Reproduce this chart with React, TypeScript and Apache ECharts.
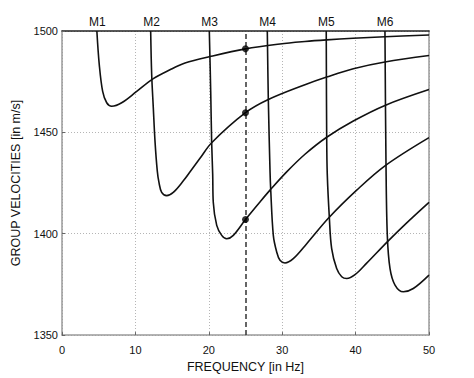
import React, { useEffect, useRef } from "react";
import * as echarts from "echarts";

const modeNames = ["M1", "M2", "M3", "M4", "M5", "M6"];
const modeCutoffs = [4.8, 12.2, 20.1, 28.0, 36.0, 44.0];

const m1: number[][] = [
  [4.75, 1500], [5.08, 1483.3], [5.54, 1470.2], [6.09, 1464.6], [6.77, 1462.9],
  [8.13, 1464.6], [10.18, 1470.2], [12.44, 1476.5], [14.71, 1480.9], [16.76, 1484.2],
  [20.16, 1487.4], [25, 1491.2], [29.7, 1493.6], [33.1, 1494.8], [36.06, 1495.6],
  [39.65, 1496.4], [44.0, 1497.2], [50, 1498.0],
];
const m2: number[][] = [
  [12.08, 1500], [12.22, 1478.4], [12.44, 1462.1], [12.67, 1445.7], [12.98, 1431.0],
  [13.21, 1425.3], [13.58, 1420.4], [14.26, 1418.8], [15.16, 1420.4], [16.53, 1426.1],
  [17.5, 1430.8], [18.8, 1437.2], [20.39, 1444.9], [25, 1459.7], [28.11, 1466.2],
  [33.1, 1473.5], [36.06, 1477.3], [39.69, 1481.4], [44.0, 1484.7], [50, 1487.9],
];
const m3: number[][] = [
  [20.07, 1500], [20.26, 1470.2], [20.39, 1445.0], [20.53, 1429.4], [20.61, 1415.5],
  [21.08, 1404.1], [21.76, 1399.2], [22.44, 1397.5], [23.34, 1399.2], [25, 1407.0],
  [27.0, 1415.8], [28.34, 1421.5], [30.61, 1430.5], [33.1, 1439.2], [36.06, 1447.6],
  [39.69, 1455.6], [44.0, 1463.3], [50, 1471.1],
];
const m4: number[][] = [
  [27.97, 1500], [28.11, 1466.2], [28.34, 1431.0], [28.43, 1422.1], [28.79, 1399.2],
  [29.25, 1391.0], [29.7, 1386.9], [30.38, 1385.6], [31.51, 1387.7], [33.34, 1395.1],
  [36.38, 1408.0], [40.15, 1421.5], [44.0, 1433.5], [50, 1447.4],
];
const m5: number[][] = [
  [36.0, 1500], [36.06, 1448.2], [36.14, 1429.4], [36.42, 1408.2], [36.74, 1392.6],
  [37.42, 1382.8], [38.11, 1378.8], [38.79, 1377.9], [39.92, 1379.8], [41.51, 1385.5],
  [44.45, 1396.5], [47.0, 1405.5], [50, 1415.5],
];
const m6: number[][] = [
  [44.0, 1500], [44.14, 1435.2], [44.32, 1399.2], [44.69, 1382.8], [45.37, 1374.7],
  [46.5, 1371.4], [47.86, 1373.0], [50, 1379.6],
];
const modes = [m1, m2, m3, m4, m5, m6];

const markFreq = 25;
const dotY = [1491.2, 1459.7, 1407.0];

const FONT = "Liberation Sans, Arial, sans-serif";

export default function App() {
  const ref = useRef<HTMLDivElement>(null);
  useEffect(() => {
    if (!ref.current) return;
    const chart = echarts.init(ref.current, undefined, { renderer: "svg" });
    const gridLine = { show: true, lineStyle: { color: "#b5b5b5", type: [1, 2] as any, width: 1 } };
    const grayAxis = { show: true, lineStyle: { color: "#9a9a9a", width: 1.5 } };
    chart.setOption({
      animation: false,
      backgroundColor: "#ffffff",
      grid: { left: 62, right: 45, top: 31, bottom: 42, containLabel: false },
      xAxis: [
        {
          type: "value", min: 0, max: 50, interval: 10, position: "bottom",
          axisLine: { ...grayAxis, onZero: false },
          axisTick: { show: true, inside: true, length: 3, lineStyle: { color: "#666" } },
          axisLabel: { color: "#111", fontSize: 11, fontFamily: FONT, margin: 9, formatter: (v: number) => String(v) },
          splitLine: gridLine,
          name: "FREQUENCY [in Hz]", nameLocation: "middle", nameGap: 24,
          nameTextStyle: { color: "#111", fontSize: 12.5, fontFamily: FONT },
        },
        {
          type: "value", min: 0, max: 50, interval: 10, position: "top",
          axisLine: { show: true, onZero: false, lineStyle: { color: "#222", width: 1.5 } },
          axisTick: { show: false },
          axisLabel: {
            show: true, color: "#111", fontSize: 12, fontFamily: FONT, margin: 3,
            customValues: modeCutoffs,
            formatter: (v: number) => {
              let best = 0;
              modeCutoffs.forEach((c, i) => { if (Math.abs(c - v) < Math.abs(modeCutoffs[best] - v)) best = i; });
              return modeNames[best];
            },
          },
          splitLine: { show: false },
        },
      ],
      yAxis: [
        {
          type: "value", min: 1350, max: 1500, interval: 50, position: "left",
          axisLine: { ...grayAxis, onZero: false },
          axisTick: { show: true, inside: true, length: 3, lineStyle: { color: "#666" } },
          axisLabel: { color: "#111", fontSize: 11, fontFamily: FONT, margin: 4, formatter: (v: number) => String(v) },
          splitLine: gridLine,
          name: "GROUP VELOCITIES [in m/s]", nameLocation: "middle", nameGap: 34,
          nameTextStyle: { color: "#111", fontSize: 12.5, fontFamily: FONT },
        },
        {
          type: "value", min: 1350, max: 1500, interval: 50, position: "right",
          axisLine: { ...grayAxis, onZero: false },
          axisTick: { show: false }, axisLabel: { show: false }, splitLine: { show: false },
        },
      ],
      series: [
        ...modes.map((d, i) => ({
          type: "line",
          name: modeNames[i],
          data: d,
          showSymbol: false,
          smooth: 0.35,
          clip: true,
          lineStyle: { color: "#111", width: 1.6 },
          z: 3,
        })),
        {
          type: "scatter",
          data: dotY.map((y) => [markFreq, y]),
          symbol: "circle",
          symbolSize: 7,
          itemStyle: { color: "#000" },
          z: 5,
          markLine: {
            silent: true,
            symbol: "none",
            label: { show: false },
            lineStyle: { color: "#333", type: [5, 3], width: 1.5 },
            data: [{ xAxis: markFreq }],
            z: 2,
          },
        },
      ],
    });
    return () => chart.dispose();
  }, []);
  return <div ref={ref} style={{ position: "fixed", left: 0, top: 0, width: 474, height: 378 }} />;
}
